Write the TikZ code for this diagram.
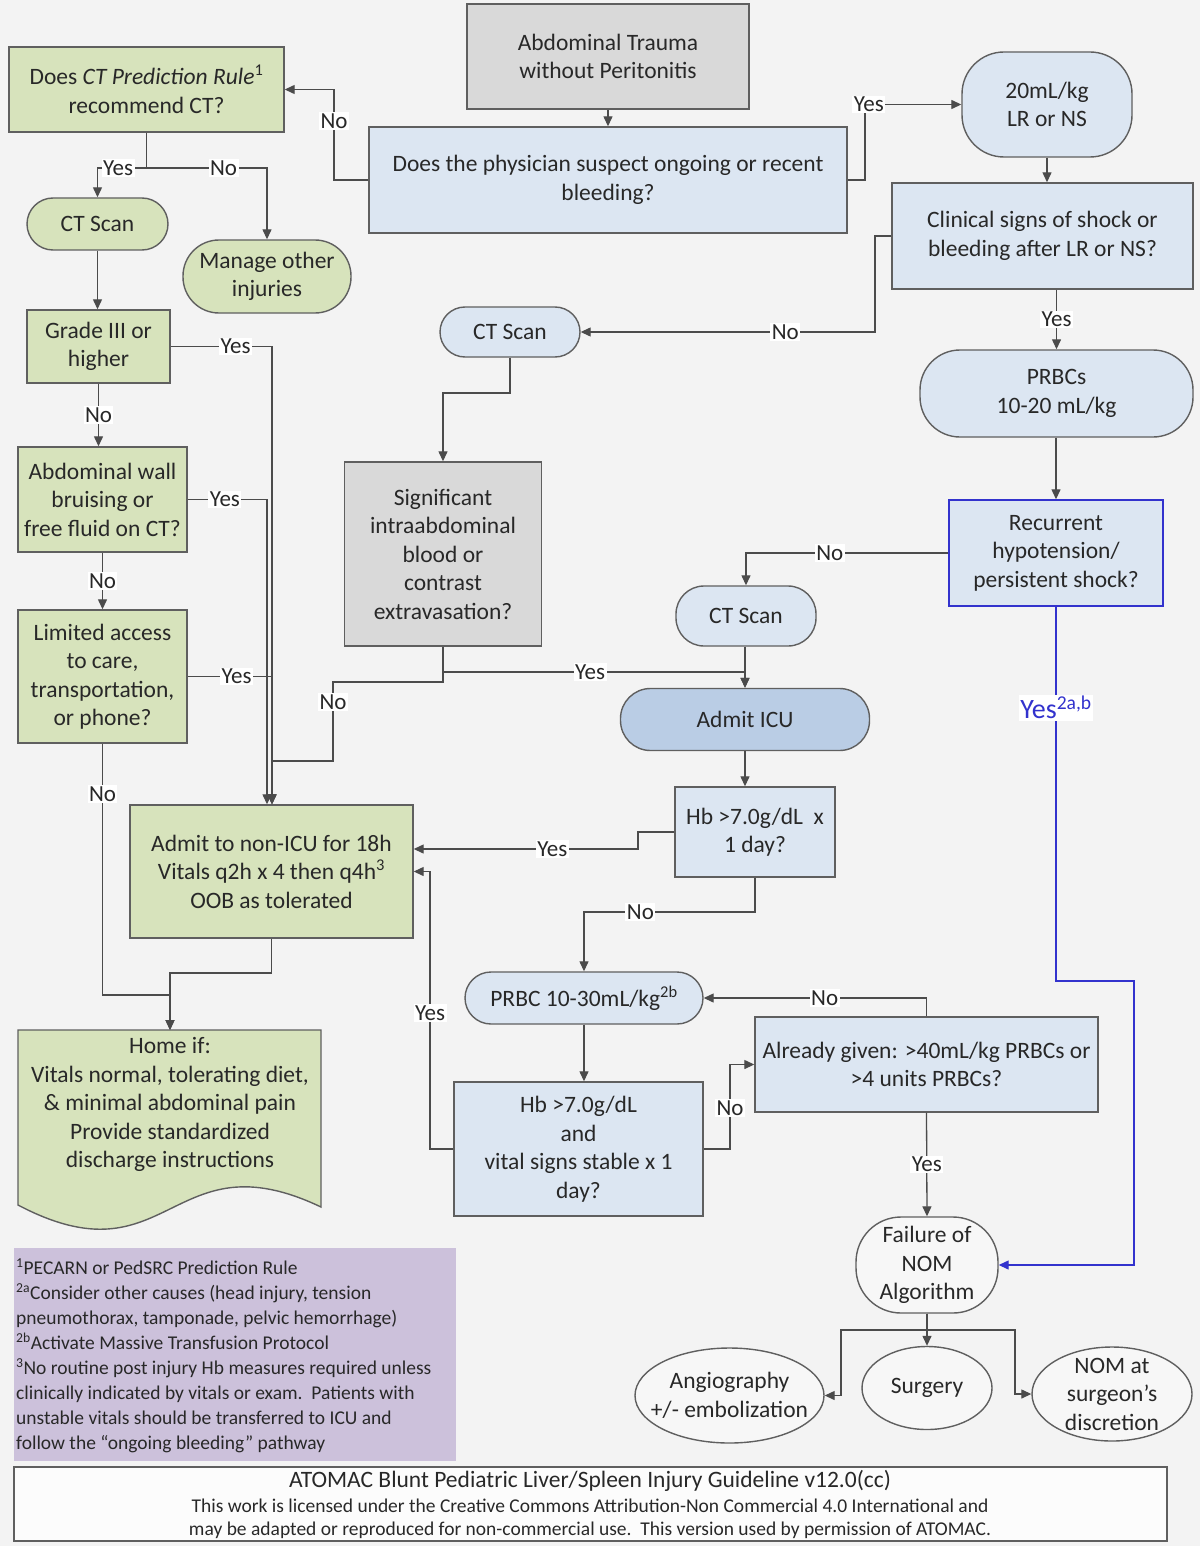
\documentclass[tikz,border=0pt]{standalone}
\usepackage{fontspec}
\setmainfont{Carlito}
\usetikzlibrary{arrows.meta,shapes.geometric}
\definecolor{bgc}{RGB}{243,243,243}
\definecolor{grn}{RGB}{215,227,188}
\definecolor{blu}{RGB}{220,230,242}
\definecolor{bluD}{RGB}{186,205,229}
\definecolor{gry}{RGB}{217,217,217}
\definecolor{edge}{RGB}{95,95,95}
\definecolor{lnk}{RGB}{75,75,75}
\definecolor{vio}{RGB}{50,50,205}
\definecolor{lav}{RGB}{204,193,219}
\definecolor{wht}{RGB}{247,247,247}
\definecolor{txt}{RGB}{40,40,40}
\tikzset{
  box/.style={draw=edge, line width=1.4pt, align=center, inner sep=1pt,
    text=txt, font=\fontsize{23.5}{28.5}\selectfont},
  gbox/.style={box, fill=grn},
  bbox/.style={box, fill=blu},
  ybox/.style={box, fill=gry},
  oval/.style={box, ellipse, fill=wht, inner xsep=-30pt, inner ysep=-12pt},
  conn/.style={draw=lnk, line width=1.3pt, -{Triangle[length=10pt,width=9pt]}},
  lab/.style={fill=white, inner sep=1.5pt, text=txt, font=\fontsize{23}{26}\selectfont},
}
\begin{document}
\begin{tikzpicture}[x=1pt,y=-1pt]
\fill[bgc] (0,0) rectangle (1200,1546);
\useasboundingbox (0,0) rectangle (1200,1546);

% ---------- nodes ----------
\node[ybox, minimum width=282pt, minimum height=105pt] (A) at (608,56.5) {Abdominal Trauma\\without Peritonitis};
\node[bbox, minimum width=478pt, minimum height=106pt] (B) at (608,180) {Does the physician suspect ongoing or recent\\bleeding?};
\node[gbox, minimum width=275pt, minimum height=85pt] (C) at (146.5,89.5) {Does \textit{CT Prediction Rule}\textsuperscript{1}\\recommend CT?};
\node[bbox, rounded corners=42pt, minimum width=170pt, minimum height=105pt] (D) at (1047,104.5) {20mL/kg\\LR or NS};
\node[bbox, minimum width=301pt, minimum height=106pt] (E) at (1042.5,236) {Clinical signs of shock or\\bleeding after LR or NS?};
\node[bbox, rounded corners=25pt, minimum width=140pt, minimum height=50pt] (F) at (510,332) {CT Scan};
\node[bbox, rounded corners=40pt, minimum width=273pt, minimum height=87pt] (G) at (1056.5,393.5) {PRBCs\\10-20 mL/kg};
\node[bbox, draw=vio, minimum width=214pt, minimum height=106pt] (H) at (1056,553) {Recurrent\\hypotension/\\persistent shock?};
\node[bbox, rounded corners=28pt, minimum width=140pt, minimum height=60pt] (I) at (746,616) {CT Scan};
\node[box, fill=bluD, rounded corners=30pt, minimum width=249pt, minimum height=62pt] (J) at (745,719.5) {Admit ICU};
\node[ybox, minimum width=197pt, minimum height=184pt] (K) at (443,554) {Significant\\intraabdominal\\blood or\\contrast\\extravasation?};
\node[bbox, minimum width=160pt, minimum height=90pt] (L) at (755,832) {Hb >7.0g/dL\ \ x\\1 day?};
\node[gbox, minimum width=283pt, minimum height=133pt] (M) at (271.5,871.5) {Admit to non-ICU for 18h\\Vitals q2h x 4 then q4h\textsuperscript{3}\\OOB as tolerated};
\node[bbox, rounded corners=26pt, minimum width=238pt, minimum height=52pt] (N) at (584,998) {PRBC 10-30mL/kg\textsuperscript{2b}};
\node[bbox, minimum width=249pt, minimum height=134pt] (O) at (578.5,1149) {Hb >7.0g/dL\\and\\vital signs stable x 1\\day?};
\node[bbox, minimum width=343pt, minimum height=95pt] (P) at (926.5,1064.5) {Already given: >40mL/kg PRBCs or\\>4 units PRBCs?};
\node[box, fill=wht, rounded corners=45pt, minimum width=142pt, minimum height=96pt] (Q) at (927,1265) {Failure of\\NOM\\Algorithm};
\node[oval, minimum width=189pt, minimum height=95pt] (R) at (729.5,1395.5) {Angiography\\+/- embolization};
\node[oval, minimum width=130pt, minimum height=83pt] (S) at (927,1388) {Surgery};
\node[oval, minimum width=160pt, minimum height=94pt] (T) at (1112,1394) {NOM at\\surgeon’s\\discretion};
\node[gbox, rounded corners=26pt, minimum width=141pt, minimum height=52pt] (U) at (97.5,224) {CT Scan};
\node[gbox, rounded corners=36pt, minimum width=168pt, minimum height=73pt] (V) at (267,276.5) {Manage other\\injuries};
\node[gbox, minimum width=143pt, minimum height=73pt] (W) at (98.5,346.5) {Grade III or\\higher};
\node[gbox, minimum width=169pt, minimum height=105pt] (X) at (102.5,499.5) {Abdominal wall\\bruising or\\free fluid on CT?};
\node[gbox, minimum width=169pt, minimum height=133pt] (Y) at (102.5,676.5) {Limited access\\to care,\\transportation,\\or phone?};

% document shape (Home if)
\draw[draw=edge, line width=1.4pt, fill=grn] (18,1030) -- (321,1030) -- (321,1207)
  .. controls (170,1135) and (170,1285) .. (18,1205) -- cycle;
\node[box, draw=none] (Z) at (170,1104.5) {Home if:\\Vitals normal, tolerating diet,\\\& minimal abdominal pain\\Provide standardized\\discharge instructions};
\coordinate (Ztop) at (170,1030);

% footnotes
\fill[lav] (14,1248) rectangle (456,1461);
\node[anchor=north west, align=left, inner sep=0pt, text=txt, font=\fontsize{19.5}{25}\selectfont] (fn) at (16,1258)
 {\textsuperscript{1}PECARN or PedSRC Prediction Rule\\
  \textsuperscript{2a}Consider other causes (head injury, tension\\
  pneumothorax, tamponade, pelvic hemorrhage)\\
  \textsuperscript{2b}Activate Massive Transfusion Protocol\\
  \textsuperscript{3}No routine post injury Hb measures required unless\\
  clinically indicated by vitals or exam.\ \ Patients with\\
  unstable vitals should be transferred to ICU and\\
  follow the “ongoing bleeding” pathway};

% bottom banner
\draw[draw=edge, line width=1.2pt, fill=white!98!gray] (14,1467) rectangle (1167,1541);
\node[text=txt, inner sep=0pt, font=\fontsize{23.5}{26}\selectfont] (t1) at (590,1481) {ATOMAC Blunt Pediatric Liver/Spleen Injury Guideline v12.0(cc)};
\node[text=txt, inner sep=0pt, font=\fontsize{19.5}{22}\selectfont] (t2) at (590,1506) {This work is licensed under the Creative Commons Attribution-Non Commercial 4.0 International and};
\node[text=txt, inner sep=0pt, font=\fontsize{19.5}{22}\selectfont] (t3) at (590,1530) {may be adapted or reproduced for non-commercial use.\ \ This version used by permission of ATOMAC.};

% ---------- connectors ----------
\draw[conn] (A.south) -- (B.north);
\draw[conn] (B.west) -- (334,180) -- node[lab,pos=0.65] (l1) {No} (334,89.5) -- (C.east);
\draw[conn] (B.east) -- (865,180) -- (865,104.5) -- node[lab,pos=0.04] (l2) {Yes} (D.west);
\draw[conn] (D.south) -- (D.south |- E.north);
\draw[conn] (E.west) -- (875,236) -- (875,332) -- node[lab,pos=0.305] (l3) {No} (F.east);
\draw[conn] (G.north |- E.south) -- node[lab] (l4) {Yes} (G.north);
\draw[conn] (H.north |- G.south) -- (H.north);
\draw[conn] (H.west) -- node[lab,pos=0.586] (l5) {No} (I.north |- H.west) -- (I.north);
\draw[conn] (F.south) -- (510,393) -- (443,393) -- (K.north);
\draw[conn] (J.north |- I.south) -- (J.north);
\draw[conn] (K.south) -- (443,672) -- node[lab,pos=0.487] (l6) {Yes} (745,672) -- (J.north);
\draw[conn] (K.south) -- (443,682) -- (333,682) -- node[lab,pos=0.25] (l7) {No} (333,761) -- (272,761) -- ([xshift=0.5pt]M.north);
\draw[conn] (J.south) -- (J.south |- L.north);
\draw[conn] (L.west) -- (638,832) -- (638,849) -- node[lab,pos=0.382] (l8) {Yes} ([yshift=22.5pt]M.east);
\draw[conn] (O.west) -- (430,1149) -- node[lab,pos=0.49] (l9) {Yes} (430,871.5) -- (M.east);
\draw[conn] (L.south) -- (755,912) -- node[lab,pos=0.67] (l10) {No} (584,912) -- (N.north);
\draw[conn] (N.south) -- (N.south |- O.north);
\draw[conn] (O.east) -- (730,1149) -- node[lab,pos=0.48] (l11) {No} (730,1064.5) -- (P.west);
\draw[conn] (P.north) -- (926.5,998) -- node[lab,pos=0.457] (l12) {No} (N.east);
\draw[conn] (P.south) -- node[lab] (l13) {Yes} (Q.north);
\draw[conn, draw=vio] (H.south) -- node[lab,pos=0.27,text=vio,font=\fontsize{28}{30}\selectfont] (l14) {Yes\textsuperscript{2a,b}} (1056,981) -- (1134,981) -- (1134,1265) -- (Q.east);
\draw[conn] (Q.south) -- (S.north);
\draw[conn] (Q.south) -- (927,1330) -- (841,1330) -- (841,1395.5) -- (R.east);
\draw[conn] (Q.south) -- (927,1330) -- (1015,1330) -- (1015,1394) -- (T.west);
\draw[conn] (C.south) -- (146.5,168) -- node[lab,pos=0.58] (l15) {Yes} (97.5,168) -- (U.north);
\draw[conn] (C.south) -- (146.5,168) -- node[lab,pos=0.64] (l16) {No} (267,168) -- (V.north);
\draw[conn] (U.south) -- (U.south |- W.north);
\draw[conn] (W.south) -- node[lab] (l17) {No} (W.south |- X.north);
\draw[conn] (X.south) -- node[lab] (l18) {No} (Y.north);
\draw[conn] (Y.south) -- node[lab,pos=0.2] (l19) {No} (102.5,995) -- (170,995) -- (Ztop);
\draw[conn] (M.south) -- (271.5,973) -- (170,973) -- (Ztop);
\draw[conn] (W.east) -- node[lab,pos=0.64] (l20) {Yes} (272,346.5) -- ([xshift=0.5pt]M.north);
\draw[conn] (X.east) -- node[lab,pos=0.47] (l21) {Yes} (267,499.5) -- ([xshift=-4.5pt]M.north);
\draw[conn] (Y.east) -- node[lab,pos=0.58] (l22) {Yes} (272,676.5) -- ([xshift=0.5pt]M.north);
\end{tikzpicture}
\end{document}
